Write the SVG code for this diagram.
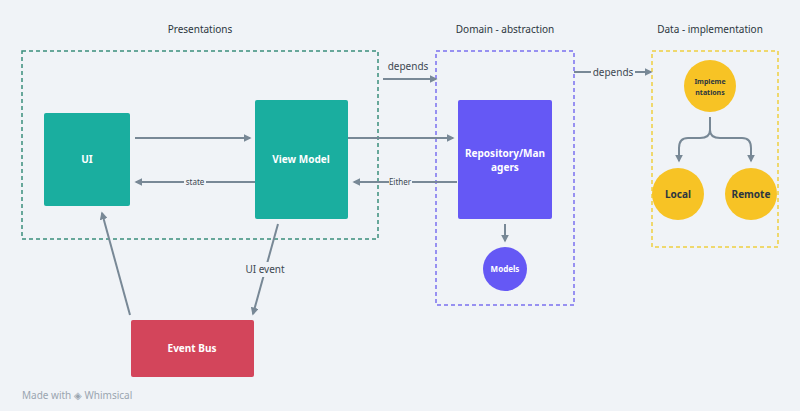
<svg xmlns="http://www.w3.org/2000/svg" width="800" height="411" viewBox="0 0 800 411">
<defs>
<marker id="ah" viewBox="0 0 10 10" refX="8" refY="5" markerWidth="4" markerHeight="4" orient="auto"><path d="M0,0 L10,5 L0,10 z" fill="#788896"/></marker>
<style>
text{font-family:"Noto Sans","Liberation Sans",sans-serif;text-anchor:middle;}
.t{font-size:10px;fill:#2c3640;}
.w{font-size:10px;fill:#fff;font-weight:bold;}
.k{font-size:10px;fill:#2c3640;font-weight:bold;}
.c{fill:none;stroke:#788896;stroke-width:2;marker-end:url(#ah);}
.l{font-size:10px;fill:#3d4852;}
.grp{fill:none;stroke-width:1.5;stroke-dasharray:4 3;}
</style>
</defs>
<rect width="800" height="411" fill="#f0f3f7"/>
<text class="t" x="200" y="33">Presentations</text>
<text class="t" x="505" y="33">Domain - abstraction</text>
<text class="t" x="710" y="33">Data - implementation</text>
<rect class="grp" x="22" y="51" width="356" height="188" stroke="#3a8f7c"/>
<rect class="grp" x="436" y="51" width="138" height="254" stroke="#7a70f0"/>
<rect class="grp" x="652" y="51" width="126" height="196" stroke="#eed040"/>
<g id="connectors">
<path class="c" d="M383 79 H436"/>
<text class="l" x="408" y="70">depends</text>
<path class="c" d="M135 138 H250"/>
<path class="c" d="M255 182 H136"/>
<rect x="184" y="176" width="22" height="12" fill="#f0f3f7"/>
<text class="l" x="195" y="185" style="font-size:8px">state</text>
<path class="c" d="M348 138 H453"/>
<path class="c" d="M457 182 H354"/>
<rect x="389" y="176" width="23" height="12" fill="#f0f3f7"/>
<text class="l" x="400" y="185" style="font-size:8px">Either</text>
<path class="c" d="M505 224 V241"/>
<path class="c" d="M574 72 H651"/>
<rect x="591" y="64" width="44" height="14" fill="#f0f3f7"/>
<text class="l" x="613" y="76">depends</text>
<path class="c" d="M710 117 V130 Q710 138 700 138 H688 Q679 138 679 148 V161"/>
<path class="c" d="M710 117 V130 Q710 138 720 138 H742 Q751 138 751 148 V161"/>
<path class="c" d="M278 224 L253 314"/>
<rect x="242" y="262" width="46" height="15" fill="#f0f3f7"/>
<text class="l" x="265" y="273">UI event</text>
<path class="c" d="M130 315 L102 213"/>
</g>
<g id="ui"><rect x="44" y="113" width="86" height="93" rx="2" fill="#1aae9f"/><text class="w" x="87" y="163">UI</text></g>
<g id="viewmodel"><rect x="255" y="100" width="93" height="119" rx="2" fill="#1aae9f"/><text class="w" x="301" y="163">View Model</text></g>
<g id="repo"><rect x="458" y="100" width="94" height="119" rx="2" fill="#6558f5"/><text class="w" x="505" y="157">Repository/Man</text><text class="w" x="505" y="171">agers</text></g>
<g id="models"><circle cx="505" cy="269" r="22" fill="#6558f5"/><text class="w" x="505" y="272" style="font-size:8px">Models</text></g>
<g id="impl"><circle cx="710" cy="86" r="26" fill="#f7c325"/><text class="k" x="710" y="84" style="font-size:7px">Impleme</text><text class="k" x="710" y="95" style="font-size:7px">ntations</text></g>
<g id="local"><circle cx="678" cy="194" r="26" fill="#f7c325"/><text class="k" x="678" y="198">Local</text></g>
<g id="remote"><circle cx="751" cy="194" r="26" fill="#f7c325"/><text class="k" x="751" y="198">Remote</text></g>
<g id="eventbus"><rect x="131" y="320" width="123" height="57" rx="2" fill="#d3455b"/><text class="w" x="192" y="352">Event Bus</text></g>
<text x="22" y="399" font-size="10" fill="#9aa5b0" style="text-anchor:start">Made with ◈ Whimsical</text>
</svg>
